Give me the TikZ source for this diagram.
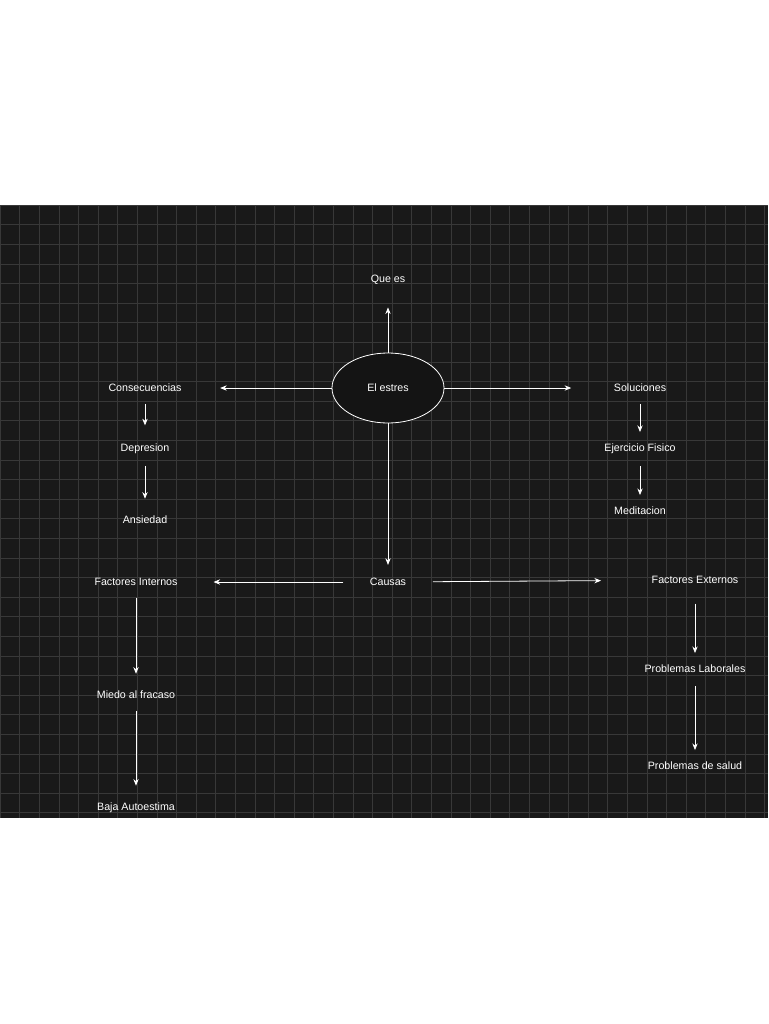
\documentclass[tikz,border=0pt]{standalone}
\usepackage{fontspec}
\setmainfont{Liberation Sans}
\usetikzlibrary{arrows.meta,shapes.geometric}
\begin{document}
\begin{tikzpicture}[x=0.75pt,y=-0.75pt,
  lbl/.style={text=white,font=\fontsize{8}{9.5}\selectfont,inner sep=0pt,outer sep=0pt},
  arr/.style={draw=white,line width=0.6pt,-{Stealth[length=5pt,width=4pt]}}]
\useasboundingbox (0,0) rectangle (768,1024);
\fill[white] (0,0) rectangle (768,1024);
\fill[black!90] (0,205) rectangle (768,818);
\begin{scope}
\clip (0,205) rectangle (768,818);
\foreach \x in {0,19.6,...,768} \draw[black!78,line width=0.3pt] (\x,205) -- (\x,818);
\foreach \y in {205,224.6,...,818} \draw[black!78,line width=0.3pt] (0,\y) -- (768,\y);
\end{scope}
\node[ellipse,draw=white,fill=black!92,minimum width=84,minimum height=52.5,inner sep=0pt,line width=0.6pt] (e) at (388,388) {};
\node[lbl] at (e) {El estres};
\node[lbl] (q) at (388,280) {Que es};
\node[lbl] (c) at (145,388) {Consecuencias};
\node[lbl] (s) at (640,388) {Soluciones};
\node[lbl] (d) at (145,449) {Depresion};
\node[lbl] (an) at (145,520) {Ansiedad};
\node[lbl] (ej) at (640,449) {Ejercicio Fisico};
\node[lbl] (m) at (640,511) {Meditacion};
\node[lbl] (ca) at (388,582) {Causas};
\node[lbl] (fi) at (136,582) {Factores Internos};
\node[lbl] (fe) at (695,580) {Factores Externos};
\node[lbl] (mi) at (136,695) {Miedo al fracaso};
\node[lbl] (ba) at (136,808) {Baja Autoestima};
\node[lbl] (pl) at (695,669) {Problemas Laborales};
\node[lbl] (ps) at (695,766) {Problemas de salud};
\draw[arr,shorten >=17pt] (e) -- (q);
\draw[arr,shorten >=29pt] (e) -- (c);
\draw[arr,shorten >=32pt] (e) -- (s);
\draw[arr,shorten >=10pt] (e) -- (ca);
\draw[arr,shorten <=20pt,shorten >=27pt] (ca) -- (fi);
\draw[arr,shorten <=20pt,shorten >=38pt] (ca) -- (fe);
\draw[arr,shorten <=9pt,shorten >=14pt] (c) -- (d);
\draw[arr,shorten <=9pt,shorten >=13pt] (d) -- (an);
\draw[arr,shorten <=9pt,shorten >=9pt] (s) -- (ej);
\draw[arr,shorten <=9pt,shorten >=9pt] (ej) -- (m);
\draw[arr,shorten <=9pt,shorten >=13pt] (fi) -- (mi);
\draw[arr,shorten <=9pt,shorten >=13pt] (mi) -- (ba);
\draw[arr,shorten <=15pt,shorten >=9pt] (fe) -- (pl);
\draw[arr,shorten <=10pt,shorten >=9pt] (pl) -- (ps);
\end{tikzpicture}
\end{document}
